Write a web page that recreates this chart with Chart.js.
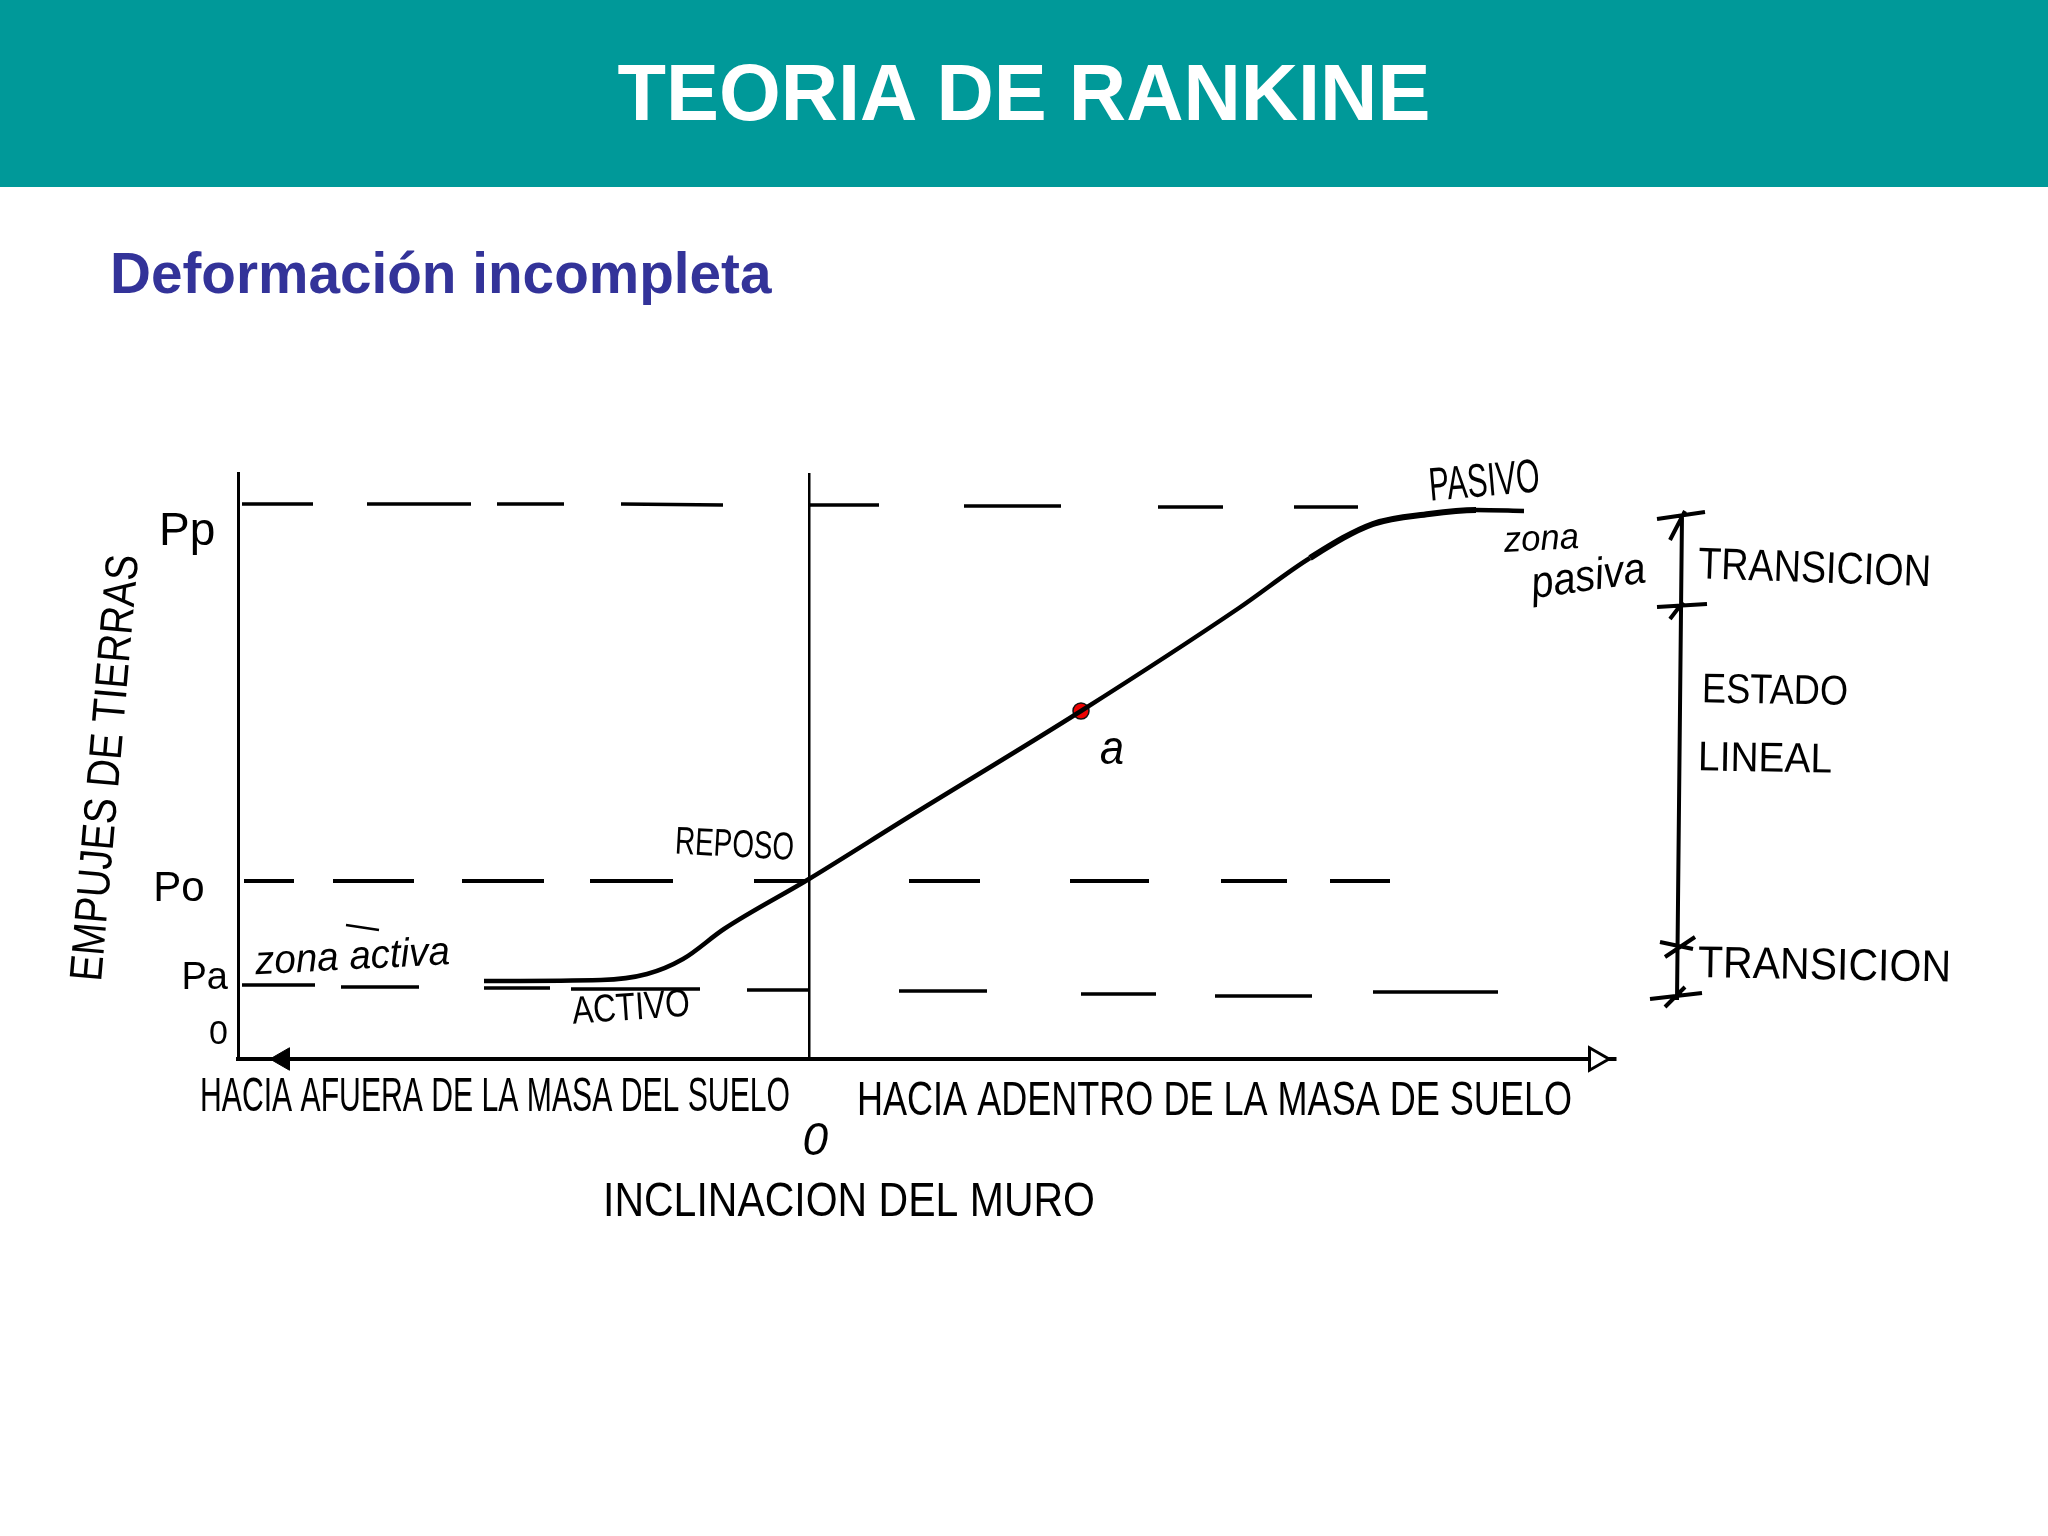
<!DOCTYPE html>
<html lang="es">
<head>
<meta charset="utf-8">
<title>Teoria de Rankine</title>
<script src="https://cdn.jsdelivr.net/npm/chart.js@4"></script>
<style>
html,body{margin:0;padding:0;background:#fff;width:2048px;height:1536px;overflow:hidden}
#band{position:absolute;left:0;top:0;width:2048px;height:187px;background:#009999}
#title{position:absolute;left:0;top:0;width:2048px;height:187px;margin:0;text-align:center;color:#fff;font:bold 80px/185px "Liberation Sans",Arial,sans-serif;transform:scaleX(.992)}
#sub{position:absolute;left:110px;top:239px;margin:0;color:#333399;font:bold 56.7px/70px "Liberation Sans",Arial,sans-serif}
canvas{position:absolute;left:0;top:0}
</style>
</head>
<body>
<div id="band"></div>
<h1 id="title">TEORIA DE RANKINE</h1>
<h2 id="sub">Deformación incompleta</h2>
<canvas id="c" width="2048" height="1536"></canvas>
<script>
// ---- values (wall tilt on x, earth thrust on y; arbitrary units) ----
const curveX = [-325,-208,-162,-126,-85,0,98,272,430,501,564,620,667,715];
const curveY = [78,79,85,100,130,180,241,348,451,501,535,545,549,548];
const pointAX = [272];
const pointAY = [348];
const yTickValues = [0,71,178,554];
const yTickLabels = ['0','Pa','Po','Pp'];
const xTickValues = [0];
const xTickLabels = ['0'];
// dashed guide lines: pairs of dash ends
const ppDashX = [-567,-496,-442,-338,-312,-245,-188,-86,-1,70,155,252,349,414,485,549];
const ppDashY = [555,555,555,555,555,555,555,554,554,554,553,553,552,552,552,552];
const poDashX = [-565,-515,-476,-395,-347,-265,-219,-136,-55,-4,100,171,261,340,412,478,521,581];
const poDashY = [178,178,178,178,178,178,178,178,178,178,178,178,178,178,178,178,178,178];
const paDashX = [-567,-494,-468,-390,-325,-259,-238,-109,-62,-1,90,178,272,347,406,503,564,689];
const paDashY = [74,74,72,72,71,71,70,70,69,69,68,68,65,65,63,63,67,67];
// right-hand bracket: stem, cross bars and slashes, in pairs of ends
const bracketX = [873,868, 848,896, 848,898, 851,884, 841,893, 861,876, 861,874, 856,886, 856,876];
const bracketY = [545,59, 540,547, 452,455, 117,110, 60,66, 519,548, 440,457, 102,122, 52,72];
const strokeX = [-463,-430];
const strokeY = [134,129];
const arrowLeftX = [-526];
const arrowRightX = [787];
const arrowY = [0];
// written labels on the drawing
const noteTexts = ['HACIA AFUERA DE LA MASA DEL SUELO','HACIA ADENTRO DE LA MASA DE SUELO','INCLINACION DEL MURO','EMPUJES DE TIERRAS','REPOSO','ACTIVO','zona activa','PASIVO','zona','pasiva','TRANSICION','ESTADO','LINEAL','TRANSICION','a'];

const toPoints = (xs, ys) => xs.map((x, i) => ({x, y: ys[i]}));
// pairs of ends become separate strokes: a gap goes between each pair
function toDashes(xs, ys) {
  const out = [];
  xs.forEach((x, i) => {
    out.push({x, y: ys[i]});
    if (i % 2 === 1) out.push({x: x, y: null});
  });
  return out;
}

const line = (data, width, extra) => Object.assign({
  data, showLine: true, borderColor: '#000', backgroundColor: '#000',
  borderWidth: width, pointRadius: 0, clip: false, spanGaps: false
}, extra || {});

// text placement: [left, right, vertical centre, cap height px, rotation deg, italic]; left/right/centre in axis units
const notePlaces = [
  [-609,-19,-39,34,0,false],
  [48,763,-43,34,0,false],
  [-206,286,-144,34,0,false],
  [-721,-721,0,0,0,false],
  [-134,-15,213,28,3,false],
  [-237,-119,50,28,-4,false],
  [-554,-359,101,29,-3,true],
  [620,731,576,34,-5,false],
  [695,770,519,26,-3,true],
  [722,837,481,32,-8,true],
  [889,1122,489,32,2,false],
  [893,1039,367,30,1,false],
  [889,1023,299,30,1,false],
  [889,1142,92,32,1,false],
  [291,315,308,34,0,true]
];

const notesPlugin = {
  id: 'notes',
  afterDatasetsDraw(chart) {
    const {ctx, scales: {x: xs, y: ys}} = chart;
    const hand = w => `${w} "Liberation Sans", Arial, sans-serif`;
    noteTexts.forEach((txt, i) => {
      const [l, r, yc, cap, rot, it] = notePlaces[i];
      ctx.save();
      ctx.fillStyle = '#000';
      ctx.textAlign = 'center';
      ctx.textBaseline = 'middle';
      if (txt === 'EMPUJES DE TIERRAS') {
        const size = 46;
        ctx.font = hand(`${size}px`);
        const w = ctx.measureText(txt).width;
        ctx.translate(107, 768);
        ctx.rotate((-90 + 5) * Math.PI / 180);
        ctx.scale(428 / w, 1);
        ctx.fillText(txt, 0, 0);
        ctx.restore();
        return;
      }
      const size = cap / 0.72;
      ctx.font = hand(`${it ? 'italic ' : ''}${size}px`);
      const w = ctx.measureText(txt).width;
      const left = xs.getPixelForValue(l), right = xs.getPixelForValue(r);
      ctx.translate((left + right) / 2, ys.getPixelForValue(yc));
      ctx.rotate(rot * Math.PI / 180);
      ctx.scale((right - left) / w, 1);
      ctx.fillText(txt, 0, 0);
      ctx.restore();
    });
  }
};

const yTickShape = {
  0:  {size: 34, lines: l => [l, ''], lh: 48},
  71: {size: 38, lines: l => [l, ''], lh: 18},
  178:{size: 42, lines: l => ['', l + '  '], lh: 16},
  554:{size: 46, lines: l => ['', l + ' '], lh: 54}
};

new Chart(document.getElementById('c'), {
  type: 'scatter',
  data: {datasets: [
    line(toPoints(curveX, curveY), 4.5, {
      label: 'Empuje', cubicInterpolationMode: 'monotone',
      segment: {borderWidth: c => c.p0.parsed.x > 480 && c.p0.parsed.x < 640 ? 6 : 4.5}
    }),
    line(toDashes(ppDashX, ppDashY), 3.5, {label: 'Pp'}),
    line(toDashes(poDashX, poDashY), 4, {label: 'Po'}),
    line(toDashes(paDashX, paDashY), 3.5, {label: 'Pa'}),
    line(toDashes(bracketX, bracketY), 4, {label: 'Estados'}),
    line(toPoints(strokeX, strokeY), 2.5, {label: 'trazo'}),
    {label: 'a', data: toPoints(pointAX, pointAY), pointRadius: 8, pointBackgroundColor: '#ee0000', pointBorderColor: '#111', pointBorderWidth: 1.5, clip: false},
    {label: 'flecha izq', data: toPoints(arrowLeftX, arrowY), pointStyle: 'triangle', rotation: -90, pointRadius: 13, pointBackgroundColor: '#000', pointBorderColor: '#000', clip: false},
    {label: 'flecha der', data: toPoints(arrowRightX, arrowY), pointStyle: 'triangle', rotation: 90, pointRadius: 13, pointBackgroundColor: '#fff', pointBorderColor: '#000', pointBorderWidth: 3, clip: false}
  ]},
  options: {
    responsive: false,
    animation: false,
    layout: {padding: {left: 0, top: 473, right: 433, bottom: 0}},
    plugins: {legend: {display: false}, tooltip: {enabled: false}},
    scales: {
      x: {
        type: 'linear', min: -571, max: 806,
        afterFit(s) { s.height = 477; },
        afterBuildTicks(s) { s.ticks = xTickValues.map(value => ({value})); },
        border: {display: true, color: '#000', width: 4},
        grid: {display: true, color: '#000', lineWidth: 2.5, drawTicks: false},
        ticks: {
          autoSkip: false, maxRotation: 0, padding: 56, color: '#000',
          font: {family: '"Liberation Sans", Arial, sans-serif', style: 'italic', size: 46},
          callback: v => ' ' + xTickLabels[xTickValues.indexOf(v)]
        }
      },
      y: {
        type: 'linear', min: 0, max: 586,
        afterFit(s) { s.width = 238; },
        afterBuildTicks(s) { s.ticks = yTickValues.map(value => ({value})); },
        border: {display: true, color: '#000', width: 3},
        grid: {display: false, drawTicks: false},
        ticks: {
          autoSkip: false, padding: 10, color: '#000',
          font: c => {
            const shape = yTickShape[c.tick ? c.tick.value : 554];
            return {family: '"Liberation Sans", Arial, sans-serif', size: shape.size, lineHeight: shape.lh + 'px'};
          },
          callback: v => yTickShape[v].lines(yTickLabels[yTickValues.indexOf(v)])
        }
      }
    }
  },
  plugins: [notesPlugin]
});
</script>
</body>
</html>
